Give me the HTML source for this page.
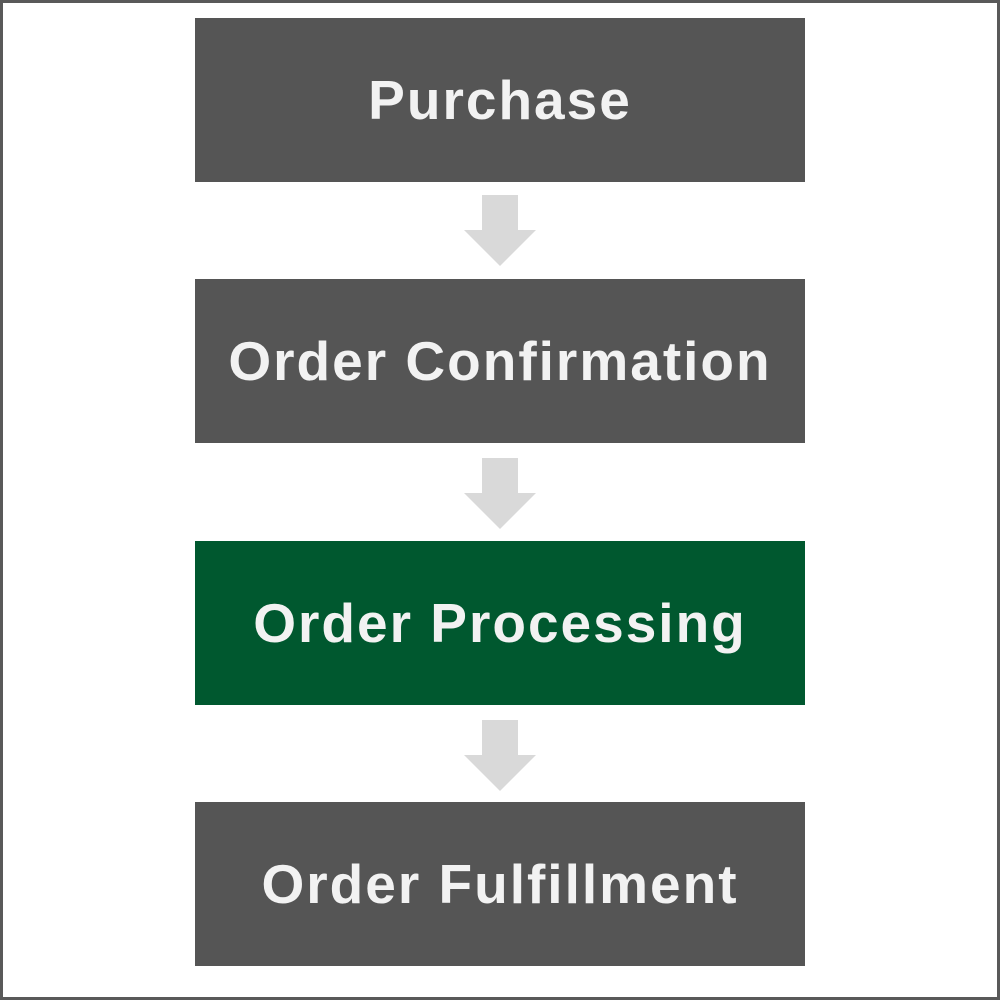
<!DOCTYPE html>
<html><head><style>
html,body{margin:0;padding:0;background:#fff;}
#c{position:relative;width:1000px;height:1000px;box-sizing:border-box;border:3px solid #595959;background:#fff;overflow:hidden;}
.b{position:absolute;left:192px;width:610px;height:164px;background:#555555;color:#f2f2f2;font-family:"Liberation Sans",sans-serif;font-weight:bold;font-size:55px;letter-spacing:2px;display:flex;align-items:center;justify-content:center;}
.g{background:#00582f;}
svg{position:absolute;left:-3px;top:-3px;}
</style></head><body>
<div id="c">
<svg width="1000" height="1000">
<g fill="#d9d9d9">
<polygon points="482,195 518,195 518,230 536,230 500,266 464,230 482,230"/>
<polygon points="482,458 518,458 518,493 536,493 500,529 464,493 482,493"/>
<polygon points="482,720 518,720 518,755 536,755 500,791 464,755 482,755"/>
</g>
</svg>
<div class="b" style="top:15px">Purchase</div>
<div class="b" style="top:276px">Order Confirmation</div>
<div class="b g" style="top:538px">Order Processing</div>
<div class="b" style="top:799px">Order Fulfillment</div>
</div>
</body></html>
